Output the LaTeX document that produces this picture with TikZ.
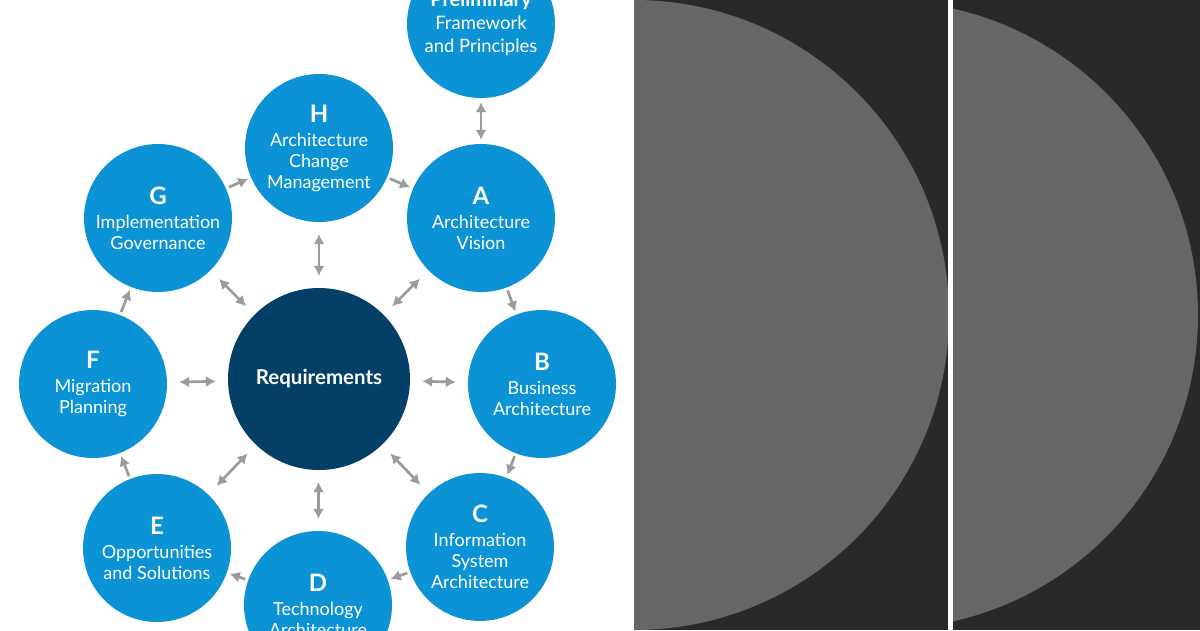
\documentclass[tikz,border=0pt]{standalone}
\usepackage{fontspec}
\setmainfont{Lato}
\usepackage{tikz}
\usetikzlibrary{positioning,arrows.meta}

\definecolor{phaseblue}{HTML}{0B93D6}
\definecolor{reqnavy}{HTML}{033F66}
\definecolor{linkgrey}{HTML}{9B9B9B}
\definecolor{slidedark}{HTML}{292929}
\definecolor{slidegrey}{HTML}{666666}

\newcommand{\phaseid}[1]{{\bfseries\fontsize{24}{26}\selectfont #1}}

\begin{document}
\begin{tikzpicture}[
  x=1pt, y=-1pt,
  phase/.style={
    circle, fill=phaseblue, text=white,
    minimum size=148pt, inner sep=0pt,
    align=center, font=\fontsize{18}{21}\selectfont
  },
  core/.style={
    circle, fill=reqnavy, text=white,
    minimum size=182pt, inner sep=0pt,
    font=\bfseries\fontsize{20.5}{23}\selectfont
  },
  both/.style={
    draw=linkgrey, line width=2.7pt,
    {Latex[length=10pt,width=11pt]}-{Latex[length=10pt,width=11pt]},
    shorten <=12pt, shorten >=12pt
  },
  onward/.style={
    draw=linkgrey, line width=2.7pt,
    -{Latex[length=10pt,width=11pt]},
    shorten <=3pt, shorten >=3pt
  }
]

\useasboundingbox (0,0) rectangle (1200,630);
\clip (0,0) rectangle (1200,630);

% slide background
\fill[white] (0,0) rectangle (634,630);
\fill[slidedark] (634,0) rectangle (1200,630);
\begin{scope}
  \clip (634,0) rectangle (948,630);
  \fill[slidegrey] (634,315) circle (315);
\end{scope}
\begin{scope}
  \clip (953,0) rectangle (1200,630);
  \fill[slidegrey] (884,315) circle (314);
\end{scope}
\fill[white] (948,0) rectangle (953,630);

% ADM cycle
\node[core] (req) at (319,379) {Requirements};

\node[phase, font=\fontsize{18.5}{23}\selectfont] (pre) at (481,24)
  {{\bfseries\fontsize{20}{23}\selectfont Preliminary}\\Framework\\and Principles};

\node[phase] (A) at (481,218) {\phaseid{A}\\[3pt]Architecture\\Vision};
\node[phase] (B) at (542,384) {\phaseid{B}\\[3pt]Business\\Architecture};
\node[phase] (C) at (480,547) {\phaseid{C}\\[3pt]Information\\System\\Architecture};
\node[phase] (D) at (318,605) {\phaseid{D}\\[3pt]Technology\\Architecture};
\node[phase] (E) at (157,548) {\phaseid{E}\\[3pt]Opportunities\\and Solutions};
\node[phase] (F) at (93,384) {\phaseid{F}\\[3pt]Migration\\Planning};
\node[phase] (G) at (158,218) {\phaseid{G}\\[3pt]Implementation\\Governance};
\node[phase] (H) at (319,148) {\phaseid{H}\\[3pt]Architecture\\Change\\Management};

\draw[both, shorten <=4pt, shorten >=4pt] (pre) -- (A);

\draw[both] (req) -- (A);
\draw[both] (req) -- (B);
\draw[both] (req) -- (C);
\draw[both] (req) -- (D);
\draw[both] (req) -- (E);
\draw[both] (req) -- (F);
\draw[both] (req) -- (G);
\draw[both] (req) -- (H);

\draw[onward] (A) -- (B);
\draw[onward] (B) -- (C);
\draw[onward] (C) -- (D);
\draw[onward] (D) -- (E);
\draw[onward] (E) -- (F);
\draw[onward] (F) -- (G);
\draw[onward] (G) -- (H);
\draw[onward] (H) -- (A);

\end{tikzpicture}
\end{document}
